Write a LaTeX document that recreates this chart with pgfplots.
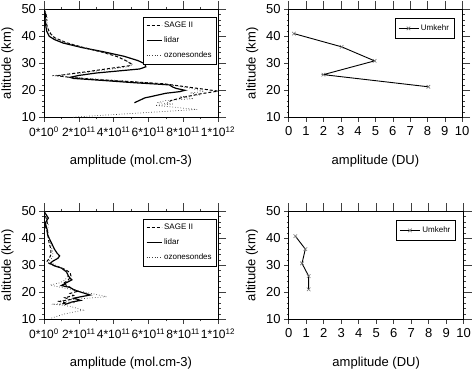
\documentclass[border=0pt]{standalone}
\usepackage{fontspec}
\setmainfont{Liberation Sans}
\usepackage{pgfplots}
\pgfplotsset{compat=1.18}

\pgfplotsset{
  panel/.style={
    scale only axis, width=174pt, height=108pt,
    ymin=10, ymax=50, ytick={10,20,30,40,50}, minor y tick num=4,
    xmin=0, xmax=10,
    axis line style={black, line width=0.6pt},
    tick style={black!75, line width=0.5pt},
    tick align=outside, major tick length=4.5pt, minor tick length=2pt,
    xtick pos=bottom, ytick pos=left,
    /pgf/number format/assume math mode=true,
    ticklabel style={font=\fontsize{13}{15}\selectfont},
    xticklabel style={yshift=-1.5pt},
    label style={font=\fontsize{13}{15}\selectfont},
    ylabel={altitude (km)},
    ylabel style={at={(axis description cs:-0.21,0.5)}, anchor=center},
    xlabel style={at={(axis description cs:0.5,-0.41)}, anchor=center},
    legend cell align=left,
    legend style={draw=black, line width=0.5pt, fill=white,
      font=\fontsize{8}{9.6}\selectfont, inner xsep=3pt, inner ysep=3pt, row sep=3.5pt,
      /tikz/every even column/.append style={column sep=2pt}},
  },
  mirror/.style={
    scale only axis, width=174pt, height=108pt,
    ymin=10, ymax=50, ytick={10,20,30,40,50}, minor y tick num=4,
    xmin=0, xmax=10,
    axis x line*=top, axis y line*=right,
    axis line style={black, line width=0.6pt, -},
    tick style={black!75, line width=0.5pt},
    tick align=outside, major tick length=8pt, minor tick length=2.5pt,
    xticklabels={}, yticklabels={},
  },
  conc/.style={panel,
    xtick={0,2,4,6,8,10}, minor x tick num=1,
    xticklabels={0*10\textsuperscript{0},2*10\textsuperscript{11},4*10\textsuperscript{11},6*10\textsuperscript{11},8*10\textsuperscript{11},1*10\textsuperscript{12}},
    xticklabel style={font=\fontsize{12}{14}\selectfont},
    xlabel={amplitude (mol.cm-3)},
    legend image code/.code={\draw[##1] (0pt,0pt) -- (15pt,0pt);},
    legend style={at={(rel axis cs:0.994,0.929)}, anchor=north east},
  },
  du/.style={panel,
    xtick={0,1,...,10},
    xlabel={amplitude (DU)},
    legend image code/.code={\draw[mark repeat=2,mark phase=2,##1] plot coordinates {(0pt,0pt) (10pt,0pt) (20pt,0pt)};},
    legend style={at={(rel axis cs:0.954,0.915)}, anchor=north east, inner ysep=4pt},
  },
  sage/.style={black, dashed, line width=1pt, dash pattern=on 3pt off 2pt},
  lidar/.style={black, solid, line width=1.2pt},
  sonde/.style={black!75, dotted, line width=0.7pt},
  umk/.style={black, line width=0.9pt, mark=x, mark size=2.5pt, mark options={black!55, line width=0.6pt}},
}

\begin{document}
\begin{tikzpicture}
\path[use as bounding box] (0pt,0pt) rectangle (474pt,369pt);

% ---------------- top left ----------------
\begin{axis}[mirror, at={(44pt,251.7pt)}, anchor=south west, xtick={0,2,4,6,8,10}, minor x tick num=1]
\end{axis}
\begin{axis}[conc, at={(44pt,251.7pt)}, anchor=south west]
\addplot[sage] coordinates {
(0,50) (0.1,48.5) (0.15,47) (0.1,45.5) (0.2,43.5) (0.3,41.5) (0.6,39.5) (1.3,37.6) (2.3,35.8) (3.3,34.2) (4.2,32.5) (4.7,31) (5.0,29.8) (4.9,29.1) (4.0,28.3) (2.6,27.0) (1.4,26.0) (0.8,25.4) (1.2,25.0) (3.0,24.0) (5.0,23.2) (6.9,22.4) (8.5,21.0) (10.0,19.7) (9.0,18.7) (8.0,17.4) (7.3,16.2) (7.1,15.4)};
\addlegendentry{SAGE II}
\addplot[lidar] coordinates {
(0,50) (0.1,48) (0.05,46) (0.1,44) (0.15,42) (0.3,40) (0.6,38.8) (1.1,37.5) (2.2,35.8) (3.4,34.3) (4.6,32.6) (5.4,31) (5.8,29.8) (5.85,28.7) (5.5,27.9) (4.5,27.3) (3.0,26.4) (2.0,25.5) (1.5,24.8) (1.7,24.4) (3.5,23.6) (5.2,22.8) (6.5,22.3) (7.2,22.0) (7.4,21.2) (7.6,20.7) (8.1,20.0) (7.8,19.5) (7.0,18.9) (6.1,17.6) (5.8,17.2) (5.5,16.3) (5.2,15.4)};
\addlegendentry{lidar}
\addplot[sonde] coordinates {
(0.05,50) (0.15,48) (0.2,46) (0.15,44) (0.3,42) (0.5,40) (0.9,38.5) (1.6,37) (2.6,35.3) (3.6,33.7) (4.4,32) (4.9,30.5) (5.1,29.5) (4.9,28.8) (3.8,27.8) (2.0,26.3) (0.8,25.6) (0.44,25.4) (1.0,25.1) (3.0,24.2) (5.2,23.2) (7.0,22.3) (8.4,20.8) (9.2,19.6) (8.4,19.0) (9.0,18.3) (7.8,17.6) (8.6,16.9) (7.0,16.2) (6.5,15.4) (7.4,14.9) (6.4,14.4) (8.8,12.9) (5.0,11.4) (2.5,10.4) (1.6,10.0)};
\addlegendentry{ozonesondes}
\end{axis}

% ---------------- top right ----------------
\begin{axis}[mirror, width=173.5pt, at={(288.7pt,251.7pt)}, anchor=south west, xtick={0,1,...,10}]
\end{axis}
\begin{axis}[du, width=173.5pt, at={(288.7pt,251.7pt)}, anchor=south west]
\addplot[umk] coordinates {(0.3,41) (3.05,36.1) (4.95,30.9) (2.0,25.8) (8.05,21.3)};
\addlegendentry{Umkehr}
\end{axis}

% ---------------- bottom left ----------------
\begin{axis}[mirror, at={(44pt,49.7pt)}, anchor=south west, xtick={0,2,4,6,8,10}, minor x tick num=1]
\end{axis}
\begin{axis}[conc, at={(44pt,49.7pt)}, anchor=south west]
\addplot[sage] coordinates {
(0,50) (0.1,48) (0.2,45.5) (0.1,44) (0.2,42) (0.25,40) (0.3,38) (0.4,36) (0.4,34) (0.3,32.5) (0.15,31.3) (0.4,30.3) (0.8,29.5) (1.2,28.5) (1.5,27.3) (1.55,26) (1.4,24.6) (1.1,23.2) (1.4,22.3) (1.6,21.3) (1.9,20.3) (1.5,19.6) (1.7,18.8) (1.2,18.0) (1.5,17.3) (0.9,16.6) (1.3,16.0) (0.9,15.5)};
\addlegendentry{SAGE II}
\addplot[lidar] coordinates {
(0,50) (0.15,48.5) (0.25,47.5) (0.1,46) (0.1,44.5) (0.2,43) (0.2,41.5) (0.3,40) (0.45,38) (0.6,36) (0.75,34.5) (0.9,33.5) (0.8,32.6) (0.5,31.5) (0.35,30.7) (0.6,29.8) (1.0,29) (1.3,27.5) (1.4,26) (1.6,24.6) (1.3,23.6) (1.0,22.5) (1.5,21.8) (1.7,21) (2.0,20.3) (2.65,19.0) (2.0,18.2) (1.7,17.8) (2.1,17.0) (1.6,16.4) (1.4,15.9) (1.2,15.5)};
\addlegendentry{lidar}
\addplot[sonde] coordinates {
(0.05,50) (0.1,48) (0.25,45) (0.2,43) (0.3,40) (0.4,37.5) (0.5,35) (0.5,33) (0.3,31.5) (0.6,30.2) (1.0,29) (1.3,27.8) (1.4,26.3) (1.2,24.5) (0.9,23.5) (0.35,22.7) (1.0,21.8) (2.0,20.5) (3.6,18.4) (2.0,17.5) (0.8,16.8) (1.8,16.2) (0.6,15.6) (1.5,14.8) (2.25,13.4) (1.2,12.0) (0.35,10.3)};
\addlegendentry{ozonesondes}
\end{axis}

% ---------------- bottom right ----------------
\begin{axis}[mirror, width=175pt, at={(288.7pt,49.7pt)}, anchor=south west, xtick={0,1,...,10}]
\end{axis}
\begin{axis}[du, width=175pt, at={(288.7pt,49.7pt)}, anchor=south west]
\addplot[umk] coordinates {(0.38,40.8) (0.95,36) (0.76,30.7) (1.14,26) (1.14,21.1)};
\addlegendentry{Umkehr}
\end{axis}
\end{tikzpicture}
\end{document}
